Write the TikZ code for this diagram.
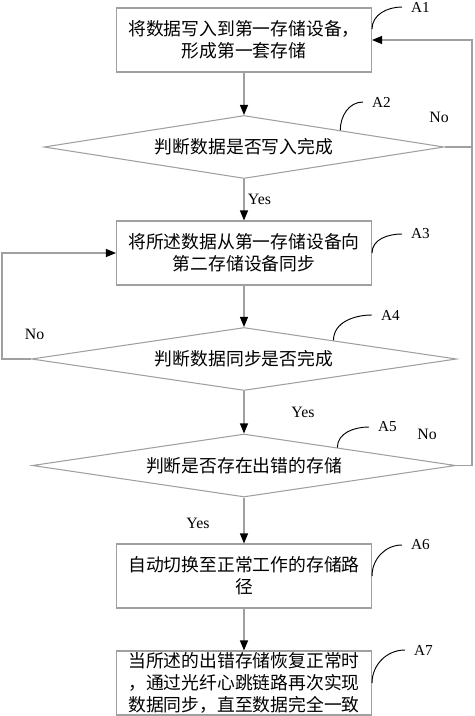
\documentclass[tikz,border=0pt]{standalone}
\usepackage{fontspec}
\usepackage{tikz}
\usetikzlibrary{shapes.geometric, arrows.meta, positioning, calc}
\setmainfont{Liberation Serif}
\newfontfamily\cjk{Noto Sans CJK SC}
\definecolor{lineGray}{RGB}{160, 160, 160}

\begin{document}
\begin{tikzpicture}[
    stepbox/.style={draw=lineGray, line width=0.9pt, minimum width=7.65cm, minimum height=1.92cm, inner sep=0pt, align=center, font=\cjk\fontsize{15.2}{18.8}\selectfont},
    decision/.style={draw=lineGray, line width=0.9pt, diamond, aspect=6, minimum width=12cm, minimum height=1.89cm, inner sep=0pt, font=\cjk\fontsize{15.2}{18.8}\selectfont},
    flow/.style={draw=lineGray, line width=0.9pt, -{Triangle[length=0.3cm, width=0.24cm, color=black]}},
    link/.style={draw=lineGray, line width=0.9pt},
    leader/.style={draw=black, line width=0.8pt},
    tag/.style={anchor=west, inner xsep=0.27cm, inner ysep=0pt, font=\fontsize{13}{13}\selectfont},
    answer/.style={inner sep=0pt, font=\fontsize{13.5}{13.5}\selectfont}
]
                    \useasboundingbox (0,0) rectangle (14.22,-21.48);

                    % Steps
                    \node[stepbox] at (7.32,-1.2) (a1) {将数据写入到第一存储设备，\\形成第一套存储};
                    \node[decision] at (7.32,-4.41) (a2) {判断数据是否写入完成};
                    \node[stepbox] at (7.32,-7.59) (a3) {将所述数据从第一存储设备向\\第二存储设备同步};
                    \node[decision, minimum width=12.75cm] at (7.32,-10.77) (a4) {判断数据同步是否完成};
                    \node[decision, minimum width=12.7cm] at (7.32,-13.965) (a5) {判断是否存在出错的存储};
                    \node[stepbox] at (7.32,-17.28) (a6) {自动切换至正常工作的存储路\\径};
                    \node[stepbox] at (7.32,-20.49) (a7) {当所述的出错存储恢复正常时\\，通过光纤心跳链路再次实现\\数据同步，直至数据完全一致};

                    % Loop corners
                    \coordinate (rturn) at (14.16,0);
                    \coordinate (lturn) at (0.06,0);

                    % Arrows
                    \foreach \src/\dst in {a1/a2, a2/a3, a3/a4, a4/a5, a5/a6, a6/a7} \draw[flow] (\src) -- (\dst);
                    \draw[flow] (a5.east) -- (a5.east -| rturn) |- (a1.east);
                    \draw[link] (a2.east) -- (a2.east -| rturn);
                    \draw[flow] (a4.west) -- (a4.west -| lturn) |- (a3.west);

                    % Yes / No
                    \node[answer] at (13.17,-3.51) (no2) {No};
                    \node[answer] at (7.785,-5.97) (yes2) {Yes};
                    \node[answer] at (1.035,-10.02) (no4) {No};
                    \node[answer] at (9.09,-12.36) (yes4) {Yes};
                    \node[answer] at (12.81,-13.02) (no5) {No};
                    \node[answer] at (5.94,-15.69) (yes5) {Yes};

                    % Step tags
                    \node[tag] at (12.06,-0.21) (t1) {A1};
                    \node[tag] at (10.89,-3.06) (t2) {A2};
                    \node[tag] at (12.06,-7.02) (t3) {A3};
                    \node[tag] at (11.16,-9.45) (t4) {A4};
                    \node[tag] at (11.07,-12.81) (t5) {A5};
                    \node[tag] at (12.06,-16.35) (t6) {A6};
                    \node[tag] at (12.15,-19.5) (t7) {A7};
                    \draw[leader] ([yshift=0.33cm]a1.east) to[out=90, in=180] (t1.west);
                    \draw[leader] ($(a2.north)!0.48!(a2.east)$) to[out=90, in=180] (t2.west);
                    \draw[leader] (a3.east) to[out=90, in=180] (t3.west);
                    \draw[leader] ($(a4.north)!0.42!(a4.east)$) to[out=90, in=180] (t4.west);
                    \draw[leader] ($(a5.north)!0.44!(a5.east)$) to[out=90, in=180] (t5.west);
                    \draw[leader] (a6.east) to[out=90, in=180] (t6.west);
                    \draw[leader] (a7.east) to[out=90, in=180] (t7.west);
                \end{tikzpicture}
\end{document}
